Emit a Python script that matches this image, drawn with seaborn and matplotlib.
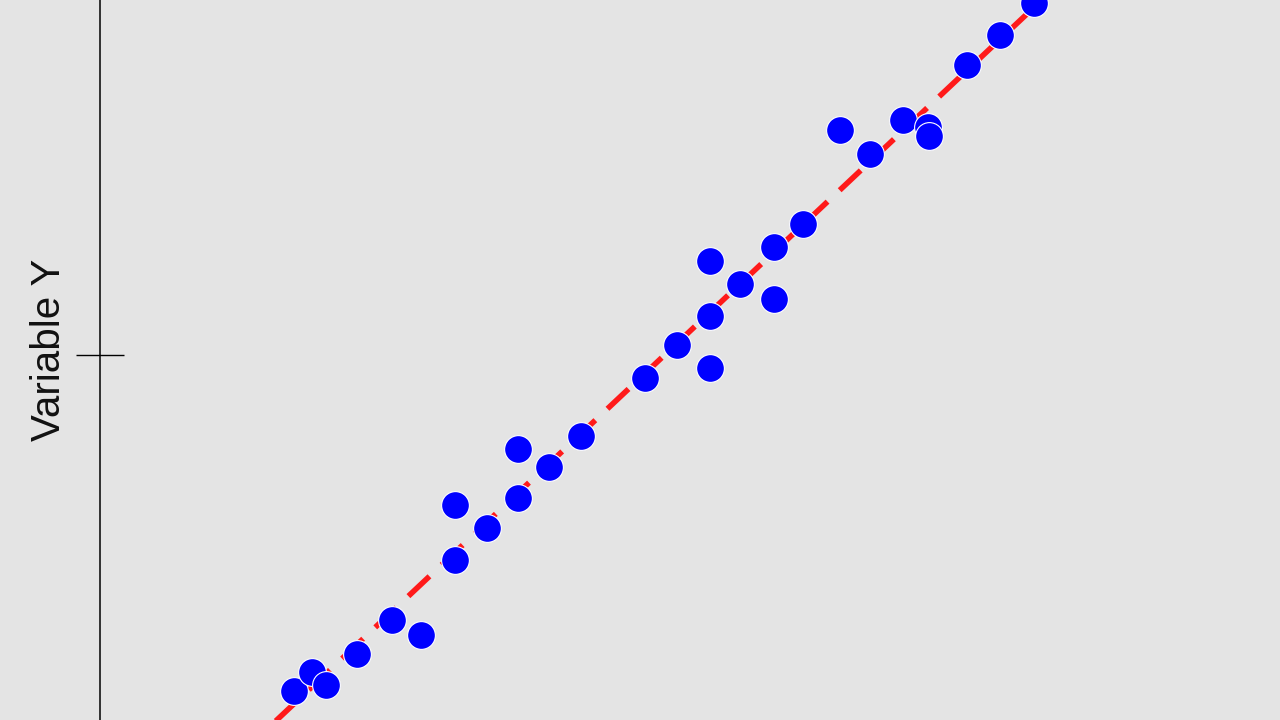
import numpy as np
import pandas as pd
import matplotlib
matplotlib.use('Agg')
import matplotlib.pyplot as plt
import seaborn as sns

# data
x_vals = [1.94, 2.12, 2.26, 2.57, 2.92, 3.21, 3.55, 3.55, 3.87, 4.18,
          4.18, 4.49, 4.81, 5.45, 5.77, 6.10, 6.10, 6.10, 6.40, 6.74,
          6.74, 7.03, 7.40, 7.70, 8.03, 8.28, 8.29, 8.67, 9.00, 9.34]
y_vals = [0.40, 0.66, 0.48, 0.90, 1.37, 1.16, 2.95, 2.19, 2.63, 3.71,
          3.04, 3.47, 3.89, 4.68, 5.14, 6.29, 5.53, 4.82, 5.97, 6.48,
          5.77, 6.79, 8.08, 7.75, 8.22, 8.12, 8.00, 8.97, 9.38, 9.82]
y_ticks = [5]

df = pd.DataFrame({'x': x_vals, 'y': y_vals})

bg = '#e4e4e4'
sns.set_style('white', {'axes.facecolor': bg, 'figure.facecolor': bg})
plt.rcParams['font.family'] = ['Liberation Sans', 'DejaVu Sans']

fig = plt.figure(figsize=(12.8, 7.2), dpi=100)
ax = fig.add_axes([100 / 1280, 0, 1180 / 1280, 1])
ax.set_xlim(0, 11.8)
ax.set_ylim(0, 720 / 73)

sns.regplot(data=df, x='x', y='y', ax=ax, ci=None, truncate=False,
            scatter_kws={'s': 400, 'color': '#0000ff', 'edgecolor': 'white',
                         'linewidths': 0.8, 'alpha': 1, 'zorder': 3},
            line_kws={'color': '#ff1a1a', 'lw': 4, 'dashes': (5.2, 3), 'zorder': 2})

ax.set_xlim(0, 11.8)
ax.set_ylim(0, 720 / 73)
for s in ['top', 'right', 'bottom']:
    ax.spines[s].set_visible(False)
ax.spines['left'].set_color('black')
ax.spines['left'].set_linewidth(1.1)

ax.set_xticks([])
ax.set_yticks(y_ticks)
ax.set_yticklabels([])
ax.tick_params(axis='y', left=True, direction='inout', length=35, width=1.0, color='black')

ax.set_xlabel('')
ax.set_ylabel('Variable Y', fontsize=29, color='#111111')
ax.yaxis.set_label_coords(-0.027, (720 - 350) / 720)

fig.savefig('out.png', dpi=100, facecolor=bg)
